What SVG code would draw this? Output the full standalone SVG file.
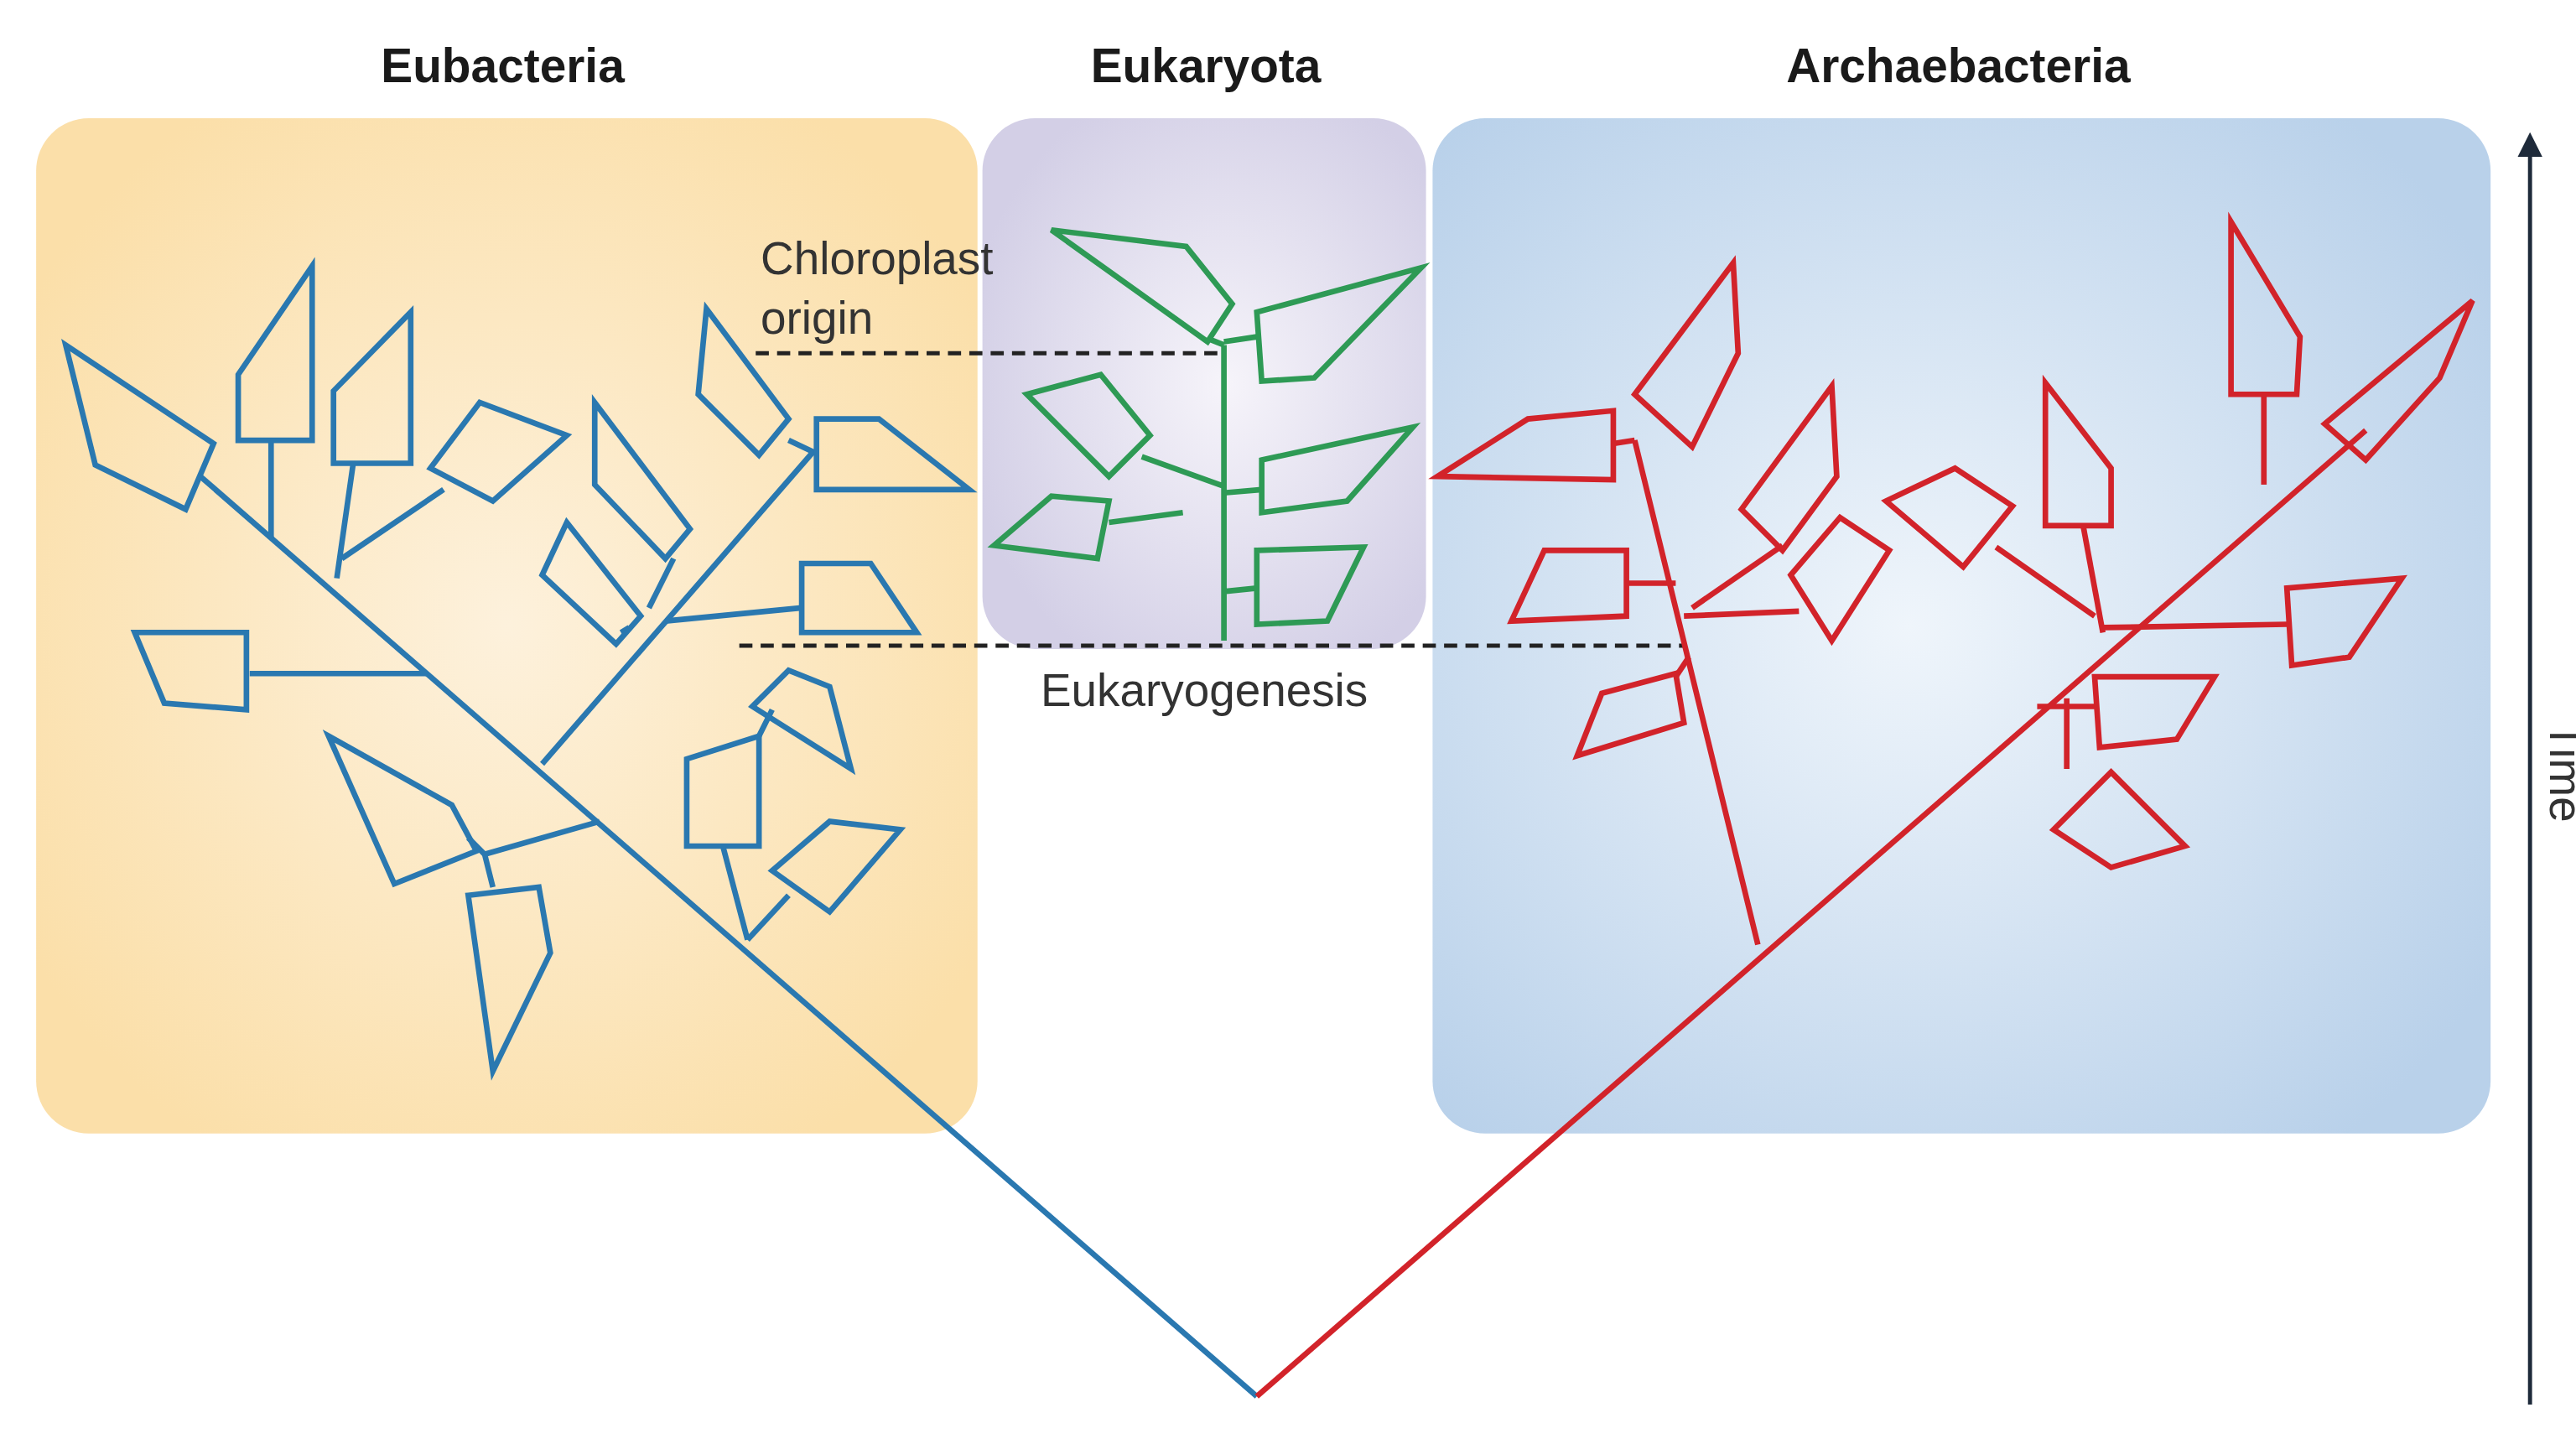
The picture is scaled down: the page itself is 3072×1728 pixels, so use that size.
<svg xmlns="http://www.w3.org/2000/svg" width="3072" height="1728" viewBox="0 0 3072 1728">
<defs>
<radialGradient id="go" cx="0.5" cy="0.5" r="0.6"><stop offset="0" stop-color="#fdf1dc"/><stop offset="1" stop-color="#fbdfa9"/></radialGradient>
<radialGradient id="gp" cx="0.55" cy="0.5" r="0.6"><stop offset="0" stop-color="#f6f4fa"/><stop offset="1" stop-color="#d3cfe6"/></radialGradient>
<radialGradient id="gb" cx="0.45" cy="0.5" r="0.65"><stop offset="0" stop-color="#eff5fb"/><stop offset="1" stop-color="#b9d1ea"/></radialGradient>
<marker id="ah" viewBox="0 0 10 10" refX="5" refY="5" markerWidth="6" markerHeight="6" orient="auto"><path d="M0,0L10,5L0,10z" fill="#1e2a3a"/></marker>
<style>
.t{font-family:"Liberation Sans",Arial,sans-serif;font-weight:bold;font-size:29px;fill:#1a1a1a;text-anchor:middle}
.l{font-family:"Liberation Sans",Arial,sans-serif;font-size:28px;fill:#333}
.b{fill:none;stroke:#2a78b0;stroke-width:3.4;stroke-linejoin:miter}
.g{fill:none;stroke:#2e9a55;stroke-width:3.4}
.r{fill:none;stroke:#d2232a;stroke-width:3.4}
.d{stroke:#222;stroke-width:2.5;stroke-dasharray:8 5;fill:none}
</style>
</defs>
<rect width="3072" height="1728" fill="#fff"/>
<g transform="scale(1.9592)">
<g id="panel-eubacteria"><rect x="22" y="72" width="573" height="618" rx="32" fill="url(#go)"/><text class="t" x="306" y="50">Eubacteria</text></g>
<g id="panel-eukaryota"><rect x="598" y="72" width="270" height="323" rx="32" fill="url(#gp)"/><text class="t" x="734" y="50">Eukaryota</text></g>
<g id="panel-archaebacteria"><rect x="872" y="72" width="644" height="618" rx="32" fill="url(#gb)"/><text class="t" x="1192" y="50">Archaebacteria</text></g>
<g id="connectors">
<line class="d" x1="460" y1="215" x2="745" y2="215"/>
<line class="d" x1="450" y1="393" x2="1025" y2="393"/>
<line x1="1540" y1="855" x2="1540" y2="88" stroke="#1e2a3a" stroke-width="2.5" marker-end="url(#ah)"/>
</g>
<g id="labels">
<text class="l" x="463" y="167">Chloroplast</text>
<text class="l" x="463" y="203">origin</text>
<text class="l" x="733" y="430" text-anchor="middle">Eukaryogenesis</text>
<text class="l" x="1552" y="470" text-anchor="middle" transform="rotate(90 1552 470)" fill="#555">Time</text>
</g>
<g id="eubacteria-tree" class="b">
<path d="M765,850L122,290"/>
<polygon points="40,210 130,270 113,310 58,283"/>
<path d="M165,328V268"/><polygon points="145,268 190,268 190,162 145,228"/>
<path d="M205,352L215,282M208,340L270,298"/><polygon points="203,282 250,282 250,190 203,238"/>
<polygon points="262,285 292,245 345,265 300,305"/>
<path d="M260,410H152"/><polygon points="82,385 150,385 150,432 100,428"/>
<path d="M330,465L495,275M480,268L497,276"/>
<polygon points="430,188 480,255 462,277 425,240"/>
<polygon points="497,255 535,255 590,298 497,298"/>
<path d="M395,370L410,340"/><polygon points="362,245 420,322 405,340 362,295"/>
<path d="M383,382L378,385"/><polygon points="330,350 345,318 390,375 375,392"/>
<path d="M405,378L488,370"/><polygon points="488,343 530,343 558,385 488,385"/>
<path d="M455,572L440,515M462,448L470,432"/>
<polygon points="418,462 462,448 462,515 418,515"/>
<polygon points="458,430 480,408 505,418 518,468"/>
<path d="M455,572L480,545"/><polygon points="470,530 505,500 548,505 505,555"/>
<path d="M365,500L295,520M295,520L300,540M295,520L285,510"/>
<polygon points="200,448 275,490 290,518 240,538"/>
<polygon points="285,545 328,540 335,580 300,652"/>
</g>
<g id="eukaryota-tree" class="g">
<path d="M745,390V210M745,210L735,206M745,208L765,205M745,296L695,278M745,300L768,298M720,312L675,318M745,360L765,358"/>
<polygon points="640,140 722,150 750,185 735,208"/>
<polygon points="765,190 865,163 800,230 768,232"/>
<polygon points="625,240 670,228 700,265 675,290"/>
<polygon points="768,280 860,260 820,305 768,312"/>
<polygon points="605,332 640,302 675,305 668,340"/>
<polygon points="765,335 830,333 808,378 765,380"/>
</g>
<g id="archaebacteria-tree" class="r">
<path d="M765,850L1440,262"/>
<polygon points="1505,183 1485,230 1440,280 1415,258"/>
<path d="M1378,295V240"/><polygon points="1358,135 1400,205 1398,240 1358,240"/>
<path d="M1070,575L995,268M995,268L982,270"/>
<polygon points="995,240 1055,160 1058,215 1030,272"/>
<polygon points="875,290 930,255 982,250 982,292"/>
<path d="M1030,370L1085,332"/><polygon points="1060,310 1115,235 1118,290 1085,335"/>
<path d="M1020,355H990"/><polygon points="920,378 940,335 990,335 990,375"/>
<path d="M1028,400L1020,412"/><polygon points="960,460 975,422 1020,410 1025,440"/>
<path d="M1025,375L1095,372"/><polygon points="1090,350 1120,315 1150,335 1115,390"/>
<path d="M1280,385L1268,320"/><polygon points="1245,233 1285,285 1285,320 1245,320"/>
<path d="M1275,375L1215,333"/><polygon points="1148,305 1190,285 1225,308 1195,345"/>
<path d="M1280,382L1392,380"/><polygon points="1392,358 1462,352 1430,400 1395,405"/>
<path d="M1240,430H1275M1258,425V468"/>
<polygon points="1275,412 1348,412 1325,450 1278,455"/>
<polygon points="1250,505 1285,470 1330,515 1285,528"/>
</g>
</g>
</svg>
